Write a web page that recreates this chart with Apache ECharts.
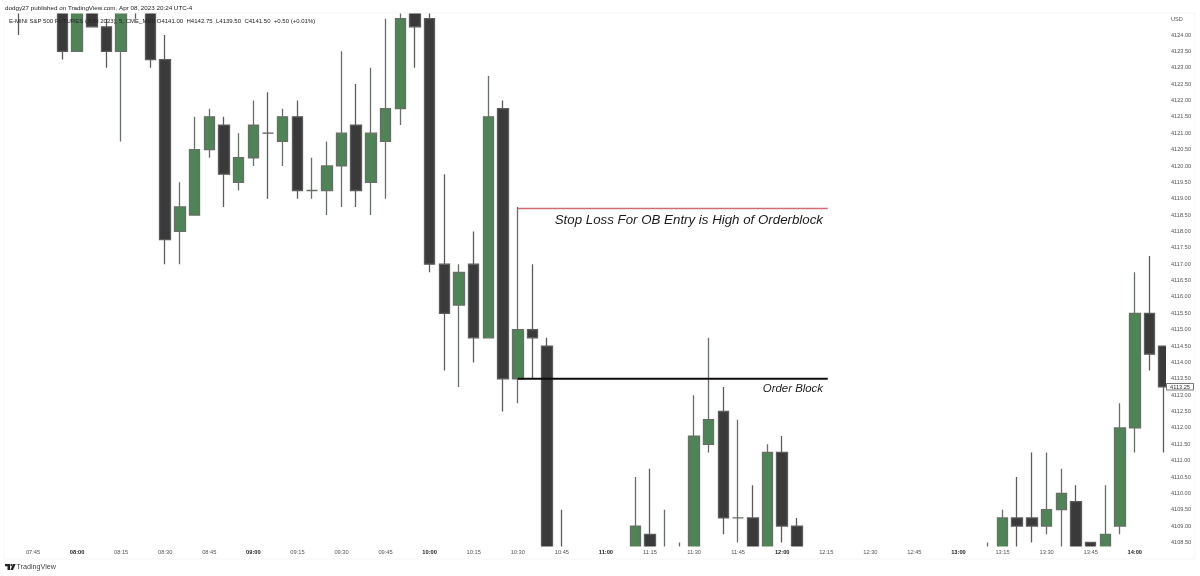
<!DOCTYPE html>
<html>
<head>
<meta charset="utf-8">
<style>
  html, body { margin: 0; padding: 0; background: #fff; }
  #chart { width: 1200px; height: 576px; }
</style>
<script src="https://cdn.jsdelivr.net/npm/echarts@6/dist/echarts.min.js"></script>
</head>
<body>
<div id="chart"></div>
<script>
// 5 minute bars, 07:40 to 14:10. null = the bar is completely outside the visible price range
const times = ["07:40","07:45","07:50","07:55","08:00","08:05","08:10","08:15","08:20","08:25","08:30","08:35","08:40","08:45","08:50","08:55","09:00","09:05","09:10","09:15","09:20","09:25","09:30","09:35","09:40","09:45","09:50","09:55","10:00","10:05","10:10","10:15","10:20","10:25","10:30","10:35","10:40","10:45","10:50","10:55","11:00","11:05","11:10","11:15","11:20","11:25","11:30","11:35","11:40","11:45","11:50","11:55","12:00","12:05","12:10","12:15","12:20","12:25","12:30","12:35","12:40","12:45","12:50","12:55","13:00","13:05","13:10","13:15","13:20","13:25","13:30","13:35","13:40","13:45","13:50","13:55","14:00","14:05","14:10"];
const opens = [4125.25,null,null,4125,4123.5,4125,4124.25,4123.5,4125.5,4125,4123.25,4118,4118.5,4120.5,4121.25,4119.5,4120.25,4121,4120.75,4121.5,4119.25,4119.25,4120,4121.25,4119.5,4120.75,4121.75,4125,4124.5,4117,4115.75,4117,4114.75,4121.75,4113.5,4115,4114.5,4108.25,null,null,null,null,4108.25,4108.75,4108,4108,4108.25,4111.5,4112.5,4109.25,4109.25,4108.25,4111.25,4109,null,null,null,null,null,null,null,null,null,null,null,null,4108,4108.25,4109.25,4109.25,4109,4109.5,4109.75,4108.5,4108.25,4109,4112,4115.5,4114.5];
const closes = [4124.75,null,null,4123.5,4125,4124.25,4123.5,4125,4125,4123.25,4117.75,4118.75,4120.5,4121.5,4119.75,4120.25,4121.25,4121,4121.5,4119.25,4119.25,4120,4121,4119.25,4121,4121.75,4124.5,4124.25,4117,4115.5,4116.75,4114.75,4121.5,4113.5,4115,4114.75,4108.25,4108,null,null,null,null,4109,4108,4108.25,4108.25,4111.75,4112.25,4109.25,4109.25,4108,4111.25,4109,4108,null,null,null,null,null,null,null,null,null,null,null,null,4108.25,4109.25,4109,4109,4109.5,4110,4108,4108.25,4108.75,4112,4115.5,4114.25,4113.25];
const lows = [4124,null,null,4123.25,4123.5,4124.25,4123,4120.75,4124.5,4123,4117,4117,4118.5,4120.25,4118.75,4119.25,4120,4119,4120,4119,4119,4118.5,4118.75,4118.75,4118.5,4119,4121.25,4123,4116.75,4113.75,4113.25,4114,4114.75,4112.5,4112.75,4113.5,4108,4107.75,null,null,null,null,4108,4107.75,4107.75,4107.75,4108,4111.25,4108.75,4108.5,4107.75,4108,4108.5,4107.75,null,null,null,null,null,null,null,null,null,null,null,null,4107.75,4108,4108.25,4108.5,4108.75,4108.25,4107.75,4108.25,4108,4108.75,4111.25,4113.75,4111.25];
const highs = [4125.5,null,null,4125.25,4125.25,4125.25,4124.5,4125.25,4125.75,4125.25,4124,4119.5,4121.5,4121.75,4121.5,4121,4122,4122.25,4121.75,4122,4120.25,4120.75,4123.5,4122.5,4123,4124.5,4124.75,4125.25,4124.75,4119.75,4117,4118,4122.75,4122,4118.75,4117,4114.75,4109.5,null,null,null,null,4110.5,4110.75,4109.5,4108.5,4113,4114.75,4113.25,4112.25,4110.25,4111.5,4111.75,4109.25,null,null,null,null,null,null,null,null,null,null,null,null,4108.5,4109.5,4110.5,4111.25,4111.25,4110.75,4110.25,4108.5,4110.25,4112.75,4116.75,4117.25,4114.5];

const priceTicks = [4108.5,4109,4109.5,4110,4110.5,4111,4111.5,4112,4112.5,4113,4113.5,4114,4114.5,4115,4115.5,4116,4116.5,4117,4117.5,4118,4118.5,4119,4119.5,4120,4120.5,4121,4121.5,4122,4122.5,4123,4123.5,4124];

const stopLossLine = [[34, 4118.7], [55.1, 4118.7]];
const orderBlockLine = [[34, 4113.5], [55.1, 4113.5]];

const upColor = "#4f8457";
const upBorder = "#667066";
const downColor = "#3a3a3a";
const downBorder = "#5c5c5c";
const font = "'Liberation Sans', Helvetica, Arial, sans-serif";

const candles = times.map((t, i) => [opens[i], closes[i], lows[i], highs[i]]);

let chart = echarts.init(document.getElementById("chart"), null, { renderer: "canvas" });
chart.setOption({
  animation: false,
  backgroundColor: "#ffffff",
  grid: { left: 10.97, top: 13, width: 1160.51, height: 533, outerBoundsMode: "none" },
  xAxis: [
    {
      type: "category",
      data: times,
      z: 10,
      axisLine: { show: false },
      axisTick: { show: false },
      splitLine: { show: false },
      axisLabel: {
        interval: (i, v) => v.endsWith(":00") || v.endsWith(":15") || v.endsWith(":30") || v.endsWith(":45"),
        margin: 3,
        fontFamily: font,
        fontSize: 5.7,
        color: "#555",
        hideOverlap: false,
        formatter: (v) => (v.endsWith(":00") ? "{hour|" + v + "}" : v),
        rich: { hour: { fontFamily: font, fontSize: 5.7, fontWeight: "bold", color: "#222" } },
      },
    },
    // same span as the bars, used to end the drawn lines between two bars
    { type: "value", show: false, min: -0.5, max: 78.5 },
  ],
  yAxis: {
    type: "value",
    position: "right",
    min: 4108.392,
    max: 4124.672,
    z: 10,
    axisLine: { show: false },
    axisTick: { show: false },
    splitLine: { show: false },
    axisLabel: {
      customValues: priceTicks,
      margin: -0.5,
      fontFamily: font,
      fontSize: 5.6,
      color: "#555",
      formatter: (v) => v.toFixed(2),
    },
  },
  series: [
    {
      type: "candlestick",
      data: candles,
      barWidth: 11,
      itemStyle: {
        color: upColor,
        color0: downColor,
        borderColor: upBorder,
        borderColor0: downBorder,
        borderWidth: 1.3,
      },
    },
    {
      type: "line",
      xAxisIndex: 1,
      data: stopLossLine,
      showSymbol: false,
      z: 3,
      lineStyle: { color: "#cf6b75", width: 1.3 },
    },
    {
      type: "line",
      xAxisIndex: 1,
      data: orderBlockLine,
      showSymbol: false,
      z: 3,
      lineStyle: { color: "#0c0c0c", width: 2 },
    },
  ],
  graphic: [
    // candlestick series does not clip its boxes to the grid, so the panes around it cover them
    { type: "rect", z: 5, shape: { x: 1166, y: 0, width: 34, height: 576 }, style: { fill: "#fff" } },
    { type: "rect", z: 5, shape: { x: 0, y: 0, width: 1200, height: 13 }, style: { fill: "#fff" } },
    { type: "rect", z: 5, shape: { x: 0, y: 546.5, width: 1200, height: 30 }, style: { fill: "#fff" } },
    { type: "rect", z: 6, shape: { x: 4, y: 13, width: 1191, height: 546 }, style: { fill: "none", stroke: "#f6f6f6" } },
    { type: "text", z: 12, x: 5, y: 8, style: { text: "dodgy27 published on TradingView.com, Apr 08, 2023 20:24 UTC-4", fill: "#222", font: "6.26px " + font, verticalAlign: "middle" } },
    { type: "text", z: 12, x: 9, y: 21, style: { text: "E-MINI S&P 500 FUTURES (JUN 2023), 5, CME_MINI O4141.00  H4142.75  L4139.50  C4141.50  +0.50 (+0.01%)", fill: "#222", font: "6.03px " + font, verticalAlign: "middle" } },
    { type: "text", z: 12, x: 1171, y: 19, style: { text: "USD", fill: "#555", font: "5.6px " + font, verticalAlign: "middle" } },
    { type: "text", z: 12, x: 823, y: 220, style: { text: "Stop Loss For OB Entry is High of Orderblock", fill: "#1c1c1c", font: "italic 13.3px " + font, align: "right", verticalAlign: "middle" } },
    { type: "text", z: 12, x: 823, y: 388.5, style: { text: "Order Block", fill: "#1c1c1c", font: "italic 11.4px " + font, align: "right", verticalAlign: "middle" } },
    // last price box
    { type: "rect", z: 12, shape: { x: 1166.5, y: 383.5, width: 27, height: 6.5 }, style: { fill: "#fff", stroke: "#555", lineWidth: 0.8 } },
    { type: "text", z: 13, x: 1180, y: 387, style: { text: "4113.25", fill: "#333", font: "5.6px " + font, align: "center", verticalAlign: "middle" } },
    // TradingView mark
    { type: "polygon", z: 12, shape: { points: [[5, 564], [10, 564], [10, 570], [7.5, 570], [7.5, 566.3], [5, 566.3]] }, style: { fill: "#222" } },
    { type: "circle", z: 12, shape: { cx: 11.4, cy: 565.1, r: 1.1 }, style: { fill: "#222" } },
    { type: "polygon", z: 12, shape: { points: [[13, 564], [15.6, 564], [13, 570], [10.4, 570]] }, style: { fill: "#222" } },
    { type: "text", z: 12, x: 16.5, y: 567.2, style: { text: "TradingView", fill: "#444", font: "7.2px " + font, verticalAlign: "middle" } },
  ],
});
</script>
</body>
</html>
